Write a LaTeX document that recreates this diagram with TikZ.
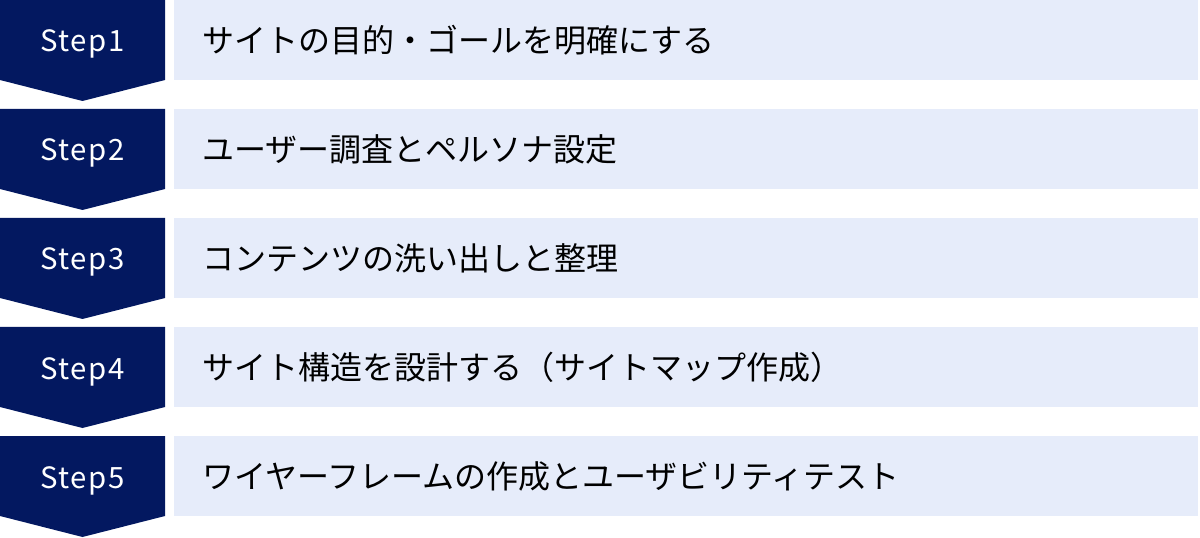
\documentclass[tikz,border=0pt]{standalone}
\usepackage{fontspec}
\setmainfont{Noto Sans CJK JP}
\definecolor{navy}{RGB}{3,24,96}
\definecolor{paleblue}{RGB}{230,236,250}

\begin{document}
\begin{tikzpicture}[x=0.75pt, y=-0.75pt,
        chevron/.style = {fill=navy},
        steplabel/.style = {text=white, anchor=base, inner sep=0pt, font=\fontsize{22}{26}\selectfont\addfontfeatures{LetterSpace=5}},
        task/.style = {fill=paleblue, anchor=west, minimum height=60pt, text width=725.5pt, inner xsep=21pt, inner ysep=0pt, align=left, font=\fontsize{24}{28}\selectfont}]
        \useasboundingbox (0,0) rectangle (1200,538);

        \fill[chevron] (0,0) -- (165,0) -- (165,80) -- (82.5,101) -- (0,80) -- cycle;
        \fill[chevron] (0,109) -- (165,109) -- (165,189) -- (82.5,210) -- (0,189) -- cycle;
        \fill[chevron] (0,218) -- (165,218) -- (165,298) -- (82.5,319) -- (0,298) -- cycle;
        \fill[chevron] (0,327) -- (165,327) -- (165,407) -- (82.5,428) -- (0,407) -- cycle;
        \fill[chevron] (0,436) -- (165,436) -- (165,516) -- (82.5,537) -- (0,516) -- cycle;

        \node[steplabel] (step1) at (82.5,52) {Step1};
        \node[steplabel] (step2) at (82.5,161) {Step2};
        \node[steplabel] (step3) at (82.5,270) {Step3};
        \node[steplabel] (step4) at (82.5,379) {Step4};
        \node[steplabel] (step5) at (82.5,488) {Step5};

        \node[task] (task1) at (174,40) {サイトの目的・ゴールを明確にする};
        \node[task] (task2) at (174,149) {ユーザー調査とペルソナ設定};
        \node[task] (task3) at (174,258) {コンテンツの洗い出しと整理};
        \node[task] (task4) at (174,367) {サイト構造を設計する（サイトマップ作成）};
        \node[task] (task5) at (174,476) {ワイヤーフレームの作成とユーザビリティテスト};
    \end{tikzpicture}
\end{document}
